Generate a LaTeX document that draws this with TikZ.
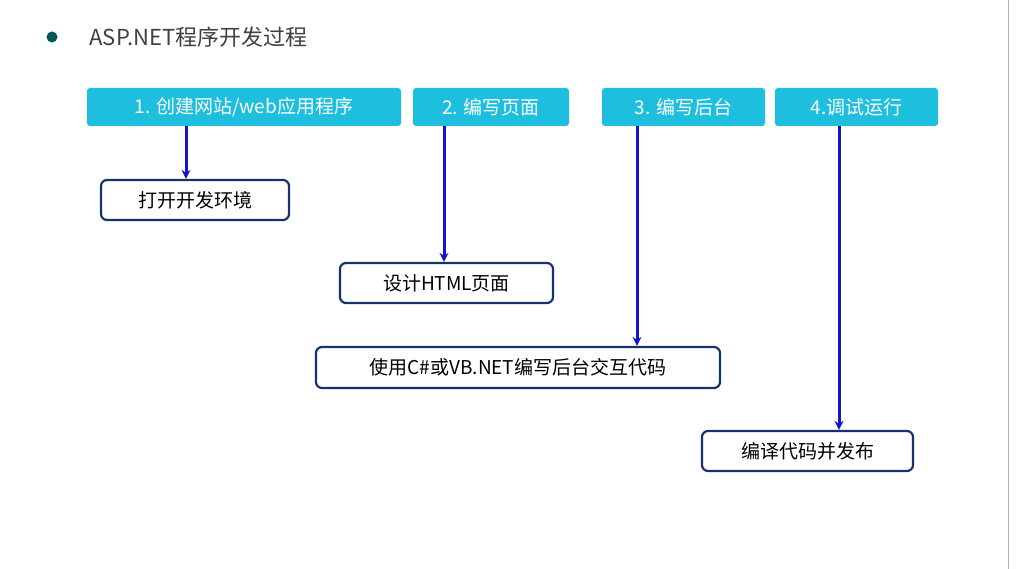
\documentclass[tikz,border=0pt]{standalone}
\usepackage{fontspec}
\usetikzlibrary{arrows.meta}
\setmainfont{Noto Sans CJK SC}
\definecolor{topc}{RGB}{30,190,222}
\definecolor{arrc}{RGB}{20,20,205}
\definecolor{bord}{RGB}{20,50,110}
\begin{document}
\begin{tikzpicture}[x=1pt,y=-1pt,
 topbox/.style={draw=none,fill=topc,rounded corners=3pt,text=white,font=\fontsize{19}{22}\selectfont,inner sep=0pt},
 botbox/.style={draw=bord,line width=2.2pt,fill=white,rounded corners=6pt,text=black,font=\fontsize{19}{22}\selectfont,inner sep=0pt},
 arr/.style={draw=arrc,line width=3pt,-{Stealth[length=9pt,width=9pt]}}]
\useasboundingbox (0,0) rectangle (1029,569);
\fill[white] (0,0) rectangle (1029,569);
\draw[gray!60] (1008,0) -- (1008,569);
\fill[teal!70!black] (52,37) circle (5.5);
\node[anchor=west,text=black!75,font=\fontsize{22}{26}\selectfont] (title) at (86,37) {ASP.NET程序开发过程};
\node[topbox,minimum width=314,minimum height=38] (t1) at (244,107) {1. 创建网站/web应用程序};
\node[topbox,minimum width=156,minimum height=38] (t2) at (491,107) {2. 编写页面};
\node[topbox,minimum width=163,minimum height=38] (t3) at (683.5,107) {3. 编写后台};
\node[topbox,minimum width=163,minimum height=38] (t4) at (856.5,107) {4.调试运行};
\node[botbox,minimum width=188,minimum height=40] (b1) at (195,200) {打开开发环境};
\node[botbox,minimum width=213,minimum height=40] (b2) at (446.5,283) {设计HTML页面};
\node[botbox,minimum width=404,minimum height=41] (b3) at (518,367.5) {使用C\#或VB.NET编写后台交互代码};
\node[botbox,minimum width=211,minimum height=40] (b4) at (807.5,451) {编译代码并发布};
\coordinate (x1) at (186,0);\coordinate (x2) at (444,0);
\coordinate (x3) at (637,0);\coordinate (x4) at (839,0);
\draw[arr] (t1.south -| x1) -- (b1.north -| x1);
\draw[arr] (t2.south -| x2) -- (b2.north -| x2);
\draw[arr] (t3.south -| x3) -- (b3.north -| x3);
\draw[arr] (t4.south -| x4) -- (b4.north -| x4);
\end{tikzpicture}
\end{document}
